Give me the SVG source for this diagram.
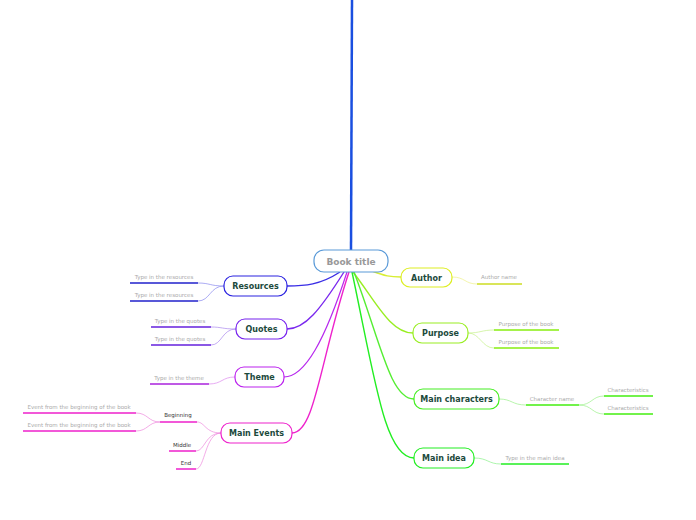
<svg xmlns="http://www.w3.org/2000/svg" width="696" height="520" viewBox="0 0 696 520">
<style>
.n{fill:#fff;stroke-width:1.2}
.t{font-family:"DejaVu Sans",sans-serif;font-size:8px;font-weight:bold;fill:#1c4a3c;text-anchor:middle}
.s{font-family:"DejaVu Sans",sans-serif;font-size:5.5px;fill:#aaa;text-anchor:middle}
.k{font-family:"DejaVu Sans",sans-serif;font-size:5.5px;fill:#333;text-anchor:middle}
.c{fill:none}
.u{fill:none;stroke-width:1.6}
</style>
<rect width="696" height="520" fill="#fff"/>
<g id="connectors">
<path d="M352 0 L351 250" stroke="#1a4fe0" stroke-width="2.5" class="c"/>
<path d="M340 272 C320 285 305 286 287 286" stroke="#3a2ee6" stroke-width="1.4" class="c"/>
<path d="M344 272 C320 310 305 329 287 329" stroke="#7a28ee" stroke-width="1.4" class="c"/>
<path d="M347 272 C325 340 305 377 284 377" stroke="#b728ee" stroke-width="1.2" class="c"/>
<path d="M349 272 C320 360 315 433 292 433" stroke="#ee22cc" stroke-width="1.4" class="c"/>
<path d="M372 271 C385 276 390 277 401 277" stroke="#d8ee33" stroke-width="1.4" class="c"/>
<path d="M353 272 C375 300 390 333 413 333" stroke="#99ee22" stroke-width="1.4" class="c"/>
<path d="M354 272 C380 340 390 399 414 399" stroke="#55ee33" stroke-width="1.4" class="c"/>
<path d="M352 272 C375 380 385 458 414 458" stroke="#22ee22" stroke-width="1.4" class="c"/>
<g stroke-width="0.7" class="c">
<path d="M224 286 C210 286 210 283 198 283" stroke="#8888ee"/>
<path d="M224 286 C210 286 210 301 198 301" stroke="#8888ee"/>
<path d="M236 329 C222 329 222 327 211 327" stroke="#aa88ee"/>
<path d="M236 329 C222 329 222 345 211 345" stroke="#aa88ee"/>
<path d="M235 377 C222 377 222 384 209 384" stroke="#dd88ee"/>
<path d="M221 433 C205 433 205 422 197 422" stroke="#ee88dd"/>
<path d="M221 433 C205 433 205 451 196 451" stroke="#ee88dd"/>
<path d="M221 433 C205 433 205 469 196 469" stroke="#ee88dd"/>
<path d="M160 422 C148 422 148 413 136 413" stroke="#ee88dd"/>
<path d="M160 422 C148 422 148 431 136 431" stroke="#ee88dd"/>
<path d="M452 277 C465 277 465 284 477 284" stroke="#eef088"/>
<path d="M468 333 C480 333 482 330 494 330" stroke="#c4f088"/>
<path d="M468 333 C480 333 482 348 494 348" stroke="#c4f088"/>
<path d="M499 399 C512 399 512 405 526 405" stroke="#99f088"/>
<path d="M579 405 C592 405 592 396 604 396" stroke="#99f088"/>
<path d="M579 405 C592 405 592 414 604 414" stroke="#99f088"/>
<path d="M474 458 C488 458 488 464 501 464" stroke="#88f088"/>
</g>
<g class="u">
<path d="M130 283H198M130 301H198" stroke="#2222cc"/>
<path d="M151 327H211M151 345H211" stroke="#6622dd"/>
<path d="M150 384H209" stroke="#aa22dd"/>
<path d="M23 413H136M23 431H136M160 422H197M169 451H196M176 469H196" stroke="#ee22cc"/>
<path d="M477 284H522" stroke="#ccdd22"/>
<path d="M494 330H559M494 348H559" stroke="#88ee11"/>
<path d="M526 405H579M604 396H653M604 414H653" stroke="#44ee11"/>
<path d="M501 464H569" stroke="#22ee22"/>
</g>
</g>
<g id="title"><rect x="314" y="250" width="74" height="22" rx="10" class="n" stroke="#5a9ad8"/><text x="351" y="264.5" class="t" style="fill:#999;font-size:9px">Book title</text></g>
<g id="resources"><rect x="224" y="276" width="63" height="20" rx="9" class="n" stroke="#2a22e0"/><text x="255.5" y="289" class="t">Resources</text>
<text x="164" y="279" class="s">Type in the resources</text><text x="164" y="297" class="s">Type in the resources</text></g>
<g id="quotes"><rect x="236" y="319" width="51" height="20" rx="9" class="n" stroke="#7722ee"/><text x="261.5" y="332" class="t">Quotes</text>
<text x="180" y="323" class="s">Type in the quotes</text><text x="180" y="341" class="s">Type in the quotes</text></g>
<g id="theme"><rect x="235" y="367" width="49" height="20" rx="9" class="n" stroke="#bb22ee"/><text x="259.5" y="380" class="t">Theme</text>
<text x="179" y="380" class="s">Type in the theme</text></g>
<g id="events"><rect x="221" y="423" width="71" height="20" rx="9" class="n" stroke="#ee22cc"/><text x="256.5" y="436" class="t">Main Events</text>
<text x="178" y="417" class="k">Beginning</text><text x="182" y="447" class="k">Middle</text><text x="186" y="465" class="k">End</text>
<text x="79" y="409" class="s">Event from the beginning of the book</text><text x="79" y="427" class="s">Event from the beginning of the book</text></g>
<g id="author"><rect x="401" y="268" width="51" height="19" rx="9" class="n" stroke="#ddee22"/><text x="426.5" y="280.5" class="t">Author</text>
<text x="499" y="279" class="s">Author name</text></g>
<g id="purpose"><rect x="413" y="323" width="55" height="20" rx="9" class="n" stroke="#99ee22"/><text x="440.5" y="336" class="t">Purpose</text>
<text x="526" y="326" class="s">Purpose of the book</text><text x="526" y="344" class="s">Purpose of the book</text></g>
<g id="characters"><rect x="414" y="389" width="85" height="20" rx="9" class="n" stroke="#44ee22"/><text x="456.5" y="402" class="t">Main characters</text>
<text x="552" y="401" class="s">Character name</text><text x="628" y="392" class="s">Characteristics</text><text x="628" y="410" class="s">Characteristics</text></g>
<g id="idea"><rect x="414" y="448" width="60" height="20" rx="9" class="n" stroke="#22ee22"/><text x="444" y="461" class="t">Main idea</text>
<text x="535" y="460" class="s">Type in the main idea</text></g>
</svg>
